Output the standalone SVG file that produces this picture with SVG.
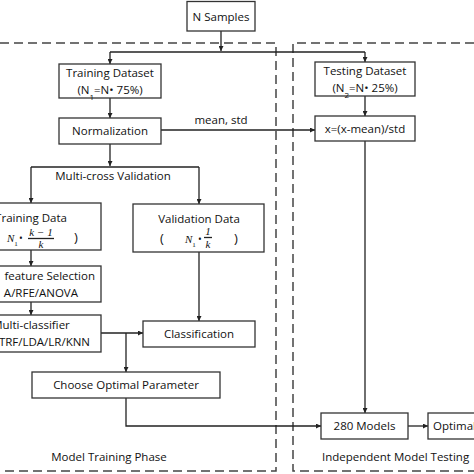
<svg xmlns="http://www.w3.org/2000/svg" width="474" height="474" viewBox="0 0 474 474">
<style>
.box{fill:#fff;stroke:#333;stroke-width:1.3}
.t{font-family:"Open Sans","Noto Sans",sans-serif;font-size:11.5px;fill:#111;text-anchor:middle}
.m{font-family:"Liberation Serif",serif;font-style:italic;font-size:11px;fill:#111}
.ln{fill:none;stroke:#222;stroke-width:1.3}
.dash{fill:none;stroke:#444;stroke-width:1.5;stroke-dasharray:9 5}
</style>
<defs>
<marker id="ah" viewBox="0 0 10 10" refX="10" refY="5" markerWidth="5" markerHeight="5" orient="auto" markerUnits="userSpaceOnUse">
<path d="M0,0 L10,5 L0,10 z" fill="#222"/>
</marker>
</defs>
<rect width="474" height="474" fill="#fff"/>
<g id="phases">
<path class="dash" d="M0,43 H276 V471 H0"/>
<path class="dash" d="M474,43 H293 V471 H474"/>
<text class="t" x="109" y="461">Model Training Phase</text>
<text class="t" x="322" y="461" style="text-anchor:start">Independent Model Testing</text>
</g>
<g id="connectors">
<path class="ln" d="M221,31 V51" marker-end="url(#ah)"/>
<path class="ln" d="M110,52 H365"/>
<path class="ln" d="M110,52 V64" marker-end="url(#ah)"/>
<path class="ln" d="M365,52 V62" marker-end="url(#ah)"/>
<path class="ln" d="M110,98 V118" marker-end="url(#ah)"/>
<path class="ln" d="M161,130 H315" marker-end="url(#ah)"/>
<text class="t" x="221" y="124">mean, std</text>
<path class="ln" d="M365,96 V116" marker-end="url(#ah)"/>
<path class="ln" d="M365,141 V413" marker-end="url(#ah)"/>
<path class="ln" d="M110,144 V166" marker-end="url(#ah)"/>
<path class="ln" d="M31,167 H199"/>
<path class="ln" d="M31,167 V203" marker-end="url(#ah)"/>
<path class="ln" d="M199,167 V204" marker-end="url(#ah)"/>
<text class="t" x="113" y="180">Multi-cross Validation</text>
<path class="ln" d="M31,250 V266" marker-end="url(#ah)"/>
<path class="ln" d="M31,302 V315" marker-end="url(#ah)"/>
<path class="ln" d="M199,252 V321" marker-end="url(#ah)"/>
<path class="ln" d="M101,333 H143" marker-end="url(#ah)"/>
<path class="ln" d="M126,333 V372" marker-end="url(#ah)"/>
<path class="ln" d="M126,398 V426 H321" marker-end="url(#ah)"/>
<path class="ln" d="M408,426 H428" marker-end="url(#ah)"/>
</g>
<g id="n-samples">
<rect class="box" x="187" y="1.5" width="68" height="29.5"/>
<text class="t" x="221" y="21">N Samples</text>
</g>
<g id="training-dataset">
<rect class="box" x="59" y="64" width="102" height="34"/>
<text class="t" x="110" y="77">Training Dataset</text>
<text class="t" x="110" y="94">(N<tspan font-size="8" baseline-shift="sub">1</tspan>=N• 75%)</text>
</g>
<g id="normalization">
<rect class="box" x="59" y="118" width="102" height="26"/>
<text class="t" x="110" y="135">Normalization</text>
</g>
<g id="testing-dataset">
<rect class="box" x="315" y="62" width="100" height="34"/>
<text class="t" x="365" y="75">Testing Dataset</text>
<text class="t" x="365" y="92">(N<tspan font-size="8" baseline-shift="sub">2</tspan>=N• 25%)</text>
</g>
<g id="standardize">
<rect class="box" x="315" y="116" width="100" height="25"/>
<text class="t" x="365" y="133">x=(x-mean)/std</text>
</g>
<g id="training-data">
<rect class="box" x="-39" y="203" width="140" height="47"/>
<text class="t" x="31" y="222">Training Data</text>
<text class="m" x="7" y="242">N<tspan font-size="7" font-style="normal" baseline-shift="sub">1</tspan></text>
<text class="t" x="21" y="242" style="font-size:10px">•</text>
<text class="m" x="41" y="235.5" text-anchor="middle">k − 1</text>
<path class="ln" d="M28,238.5 H54" stroke-width="0.9"/>
<text class="m" x="41" y="248" text-anchor="middle">k</text>
<text class="t" x="76" y="242" style="font-size:13px">)</text>
</g>
<g id="validation-data">
<rect class="box" x="133" y="204" width="131" height="48"/>
<text class="t" x="199" y="223">Validation Data</text>
<text class="t" x="162" y="243" style="font-size:13px">(</text>
<text class="m" x="185" y="243">N<tspan font-size="7" font-style="normal" baseline-shift="sub">1</tspan></text>
<text class="t" x="200" y="243" style="font-size:10px">•</text>
<text class="m" x="208" y="234.5" text-anchor="middle" font-style="normal" font-size="9">1</text>
<path class="ln" d="M204,237.5 H212" stroke-width="0.9"/>
<text class="m" x="208" y="248" text-anchor="middle" font-size="10">k</text>
<text class="t" x="236" y="243" style="font-size:13px">)</text>
</g>
<g id="feature-selection">
<rect class="box" x="-39" y="266" width="140" height="36"/>
<text class="t" x="95" y="280" style="text-anchor:end">feature Selection</text>
<text class="t" x="78" y="297" style="text-anchor:end">A/RFE/ANOVA</text>
</g>
<g id="multi-classifier">
<rect class="box" x="-39" y="315" width="140" height="37"/>
<text class="t" x="31" y="329">Multi-classifier</text>
<text class="t" x="90" y="346" style="text-anchor:end">TRF/LDA/LR/KNN</text>
</g>
<g id="classification">
<rect class="box" x="143" y="321" width="112" height="26"/>
<text class="t" x="199" y="338">Classification</text>
</g>
<g id="choose-optimal">
<rect class="box" x="32" y="372" width="188" height="26"/>
<text class="t" x="126" y="389">Choose Optimal Parameter</text>
</g>
<g id="models-280">
<rect class="box" x="321" y="413" width="87" height="26"/>
<text class="t" x="364.5" y="430">280 Models</text>
</g>
<g id="optimal-model">
<rect class="box" x="428" y="413" width="70" height="26"/>
<text class="t" x="433" y="430" style="text-anchor:start">Optimal Model</text>
</g>
</svg>
